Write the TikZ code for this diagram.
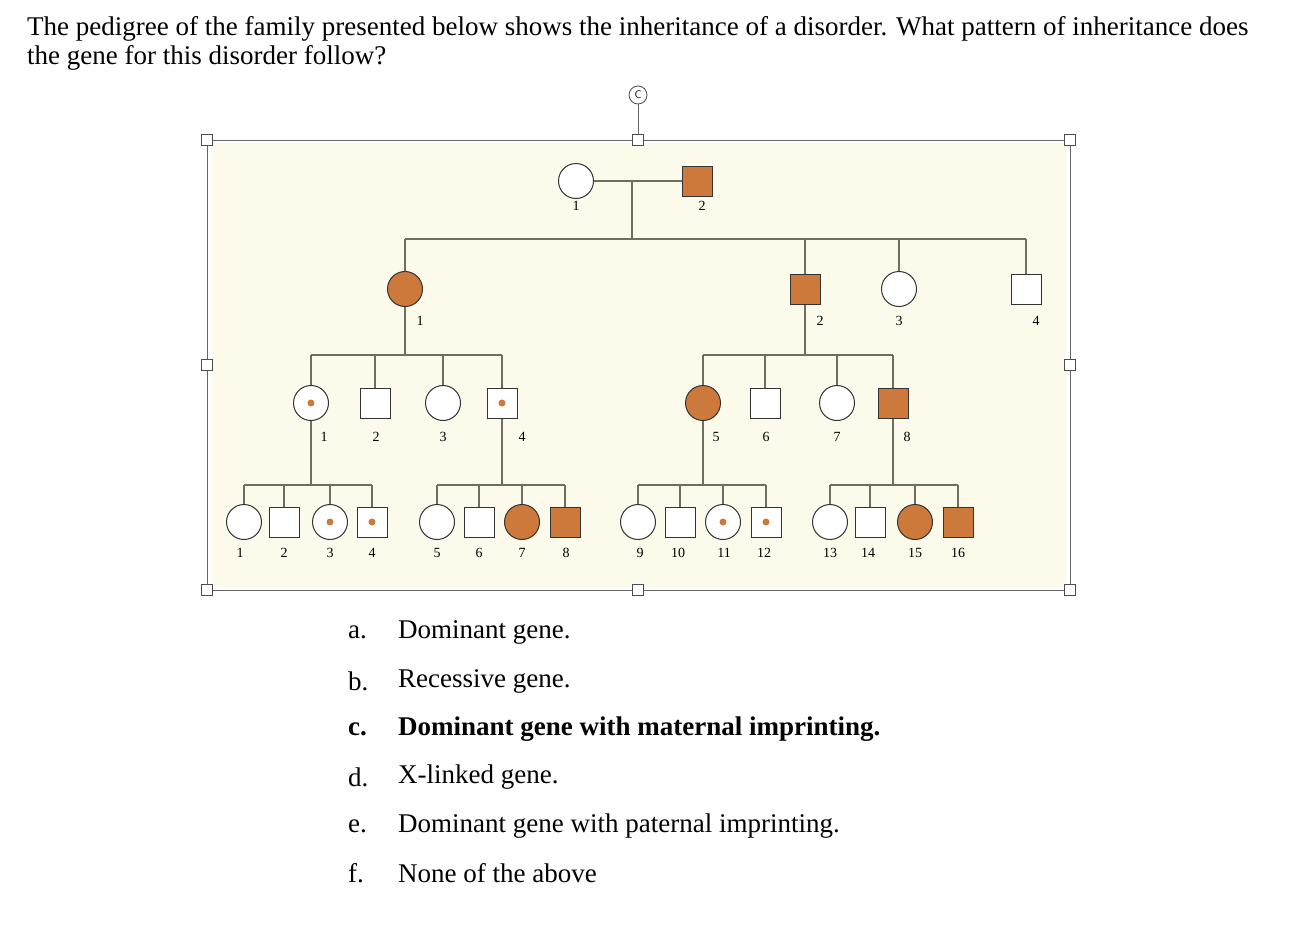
\documentclass[tikz,border=0pt]{standalone}
\usepackage{fontspec}
\setmainfont{Liberation Serif}
\definecolor{affected}{RGB}{206,121,60}
\definecolor{cream}{RGB}{252,250,234}
\definecolor{pline}{RGB}{110,110,95}
\begin{document}
\begin{tikzpicture}[x=1pt,y=-1pt,
    fem/.style={circle, draw=black!80, fill=white, line width=1pt, minimum size=35pt, inner sep=0pt},
    mal/.style={rectangle, draw=black!80, fill=white, line width=1pt, minimum size=30pt, inner sep=0pt},
    aff/.style={fill=affected},
    lab/.style={font=\fontsize{14}{14}\selectfont, inner sep=0pt},
    handle/.style={rectangle, draw=black!70, fill=white, line width=0.8pt, minimum size=11pt, inner sep=0pt},
    opt/.style={anchor=west, font=\fontsize{27}{28}\selectfont, inner sep=0pt},
    kin/.style={pline, line width=1.4pt}]
\useasboundingbox (0,0) rectangle (1314,926);
% question
\node[opt, anchor=north west, align=left, font=\fontsize{27}{29}\selectfont] (q) at (27,16)
  {The pedigree of the family presented below shows the inheritance of a disorder. What pattern of inheritance does\\ the gene for this disorder follow?};
% picture box
\fill[cream] (212,143) rectangle (1066,587);
\draw[black!60, line width=1pt] (207,140) rectangle (1070,590);
\node[handle] (h1) at (207,140) {};
\node[handle] (h2) at (638,140) {};
\node[handle] (h3) at (1070,140) {};
\node[handle] (h4) at (207,365) {};
\node[handle] (h5) at (1070,365) {};
\node[handle] (h6) at (207,590) {};
\node[handle] (h7) at (638,590) {};
\node[handle] (h8) at (1070,590) {};
\node[circle, draw=black!70, line width=0.8pt, minimum size=18pt, inner sep=0pt, font=\fontsize{11}{11}\selectfont\sffamily] (rot) at (638,95) {C};
\draw[black!60, line width=0.8pt] (rot) -- (h2);
% generation I
\node[fem] (a1) at (576,181) {};
\node[mal, aff] (a2) at (697,181) {};
\draw[kin] (a1) -- (a2);
\coordinate (am) at (632,181);
\coordinate (as) at (632,239);
\draw[kin] (am) -- (as);
\draw[kin] (405,239) -- (1026,239);
% generation II
\node[fem, aff] (b1) at (405,289) {};
\node[mal, aff] (b2) at (805,289) {};
\node[fem] (b3) at (899,289) {};
\node[mal] (b4) at (1026,289) {};
\foreach \n/\x in {b1/405,b2/805,b3/899,b4/1026} \draw[kin] (\x,239) -- (\n);
% generation III
\draw[kin] (b1) -- (405,355); \draw[kin] (311,355) -- (502,355);
\draw[kin] (b2) -- (805,355); \draw[kin] (703,355) -- (893,355);
\node[fem] (c1) at (311,403) {};
\node[mal] (c2) at (375,403) {};
\node[fem] (c3) at (443,403) {};
\node[mal] (c4) at (502,403) {};
\node[fem, aff] (c5) at (703,403) {};
\node[mal] (c6) at (765,403) {};
\node[fem] (c7) at (837,403) {};
\node[mal, aff] (c8) at (893,403) {};
\foreach \n/\x in {c1/311,c2/375,c3/443,c4/502,c5/703,c6/765,c7/837,c8/893} \draw[kin] (\x,355) -- (\n);
% generation IV
\foreach \p/\a/\b in {c1/244/372,c4/437/565,c5/638/766,c8/830/958} {
  \draw[kin] (\p) |- (\a,485);
  \draw[kin] (\a,485) -- (\b,485);
}
\node[fem] (d1) at (244,522) {};
\node[mal] (d2) at (284,522) {};
\node[fem] (d3) at (330,522) {};
\node[mal] (d4) at (372,522) {};
\node[fem] (d5) at (437,522) {};
\node[mal] (d6) at (479,522) {};
\node[fem, aff] (d7) at (522,522) {};
\node[mal, aff] (d8) at (565,522) {};
\node[fem] (d9) at (638,522) {};
\node[mal] (d10) at (680,522) {};
\node[fem] (d11) at (723,522) {};
\node[mal] (d12) at (766,522) {};
\node[fem] (d13) at (830,522) {};
\node[mal] (d14) at (870,522) {};
\node[fem, aff] (d15) at (915,522) {};
\node[mal, aff] (d16) at (958,522) {};
\foreach \n/\x in {d1/244,d2/284,d3/330,d4/372,d5/437,d6/479,d7/522,d8/565,d9/638,d10/680,d11/723,d12/766,d13/830,d14/870,d15/915,d16/958} \draw[kin] (\x,485) -- (\n);
% carrier dots
\foreach \n in {c1,c4,d3,d4,d11,d12} \fill[affected] (\n) circle (3.5pt);
% labels
\foreach \t/\x/\y in {1/576/206,2/702/206,1/420/321,2/820/321,3/899/321,4/1036/321,
  1/324/437,2/376/437,3/443/437,4/522/437,5/716/437,6/766/437,7/837/437,8/907/437,
  1/240/553,2/284/553,3/330/553,4/372/553,5/437/553,6/479/553,7/522/553,8/566/553,
  9/640/553,10/678/553,11/724/553,12/764/553,13/830/553,14/868/553,15/915/553,16/958/553}
  \node[lab] at (\x,\y) {\t};
% options
\node[opt] (la) at (348,632) {a.};  \node[opt] (oa) at (398,632) {Dominant gene.};
\node[opt] (lb) at (348,681) {b.};  \node[opt] (ob) at (398,681) {Recessive gene.};
\node[opt] (lc) at (348,729) {\textbf{c.}}; \node[opt] (oc) at (398,729) {\textbf{Dominant gene with maternal imprinting.}};
\node[opt] (ld) at (348,777) {d.};  \node[opt] (od) at (398,777) {X-linked gene.};
\node[opt] (le) at (348,826) {e.};  \node[opt] (oe) at (398,826) {Dominant gene with paternal imprinting.};
\node[opt] (lf) at (348,873) {f.};  \node[opt] (of) at (398,873) {None of the above};
\end{tikzpicture}
\end{document}
